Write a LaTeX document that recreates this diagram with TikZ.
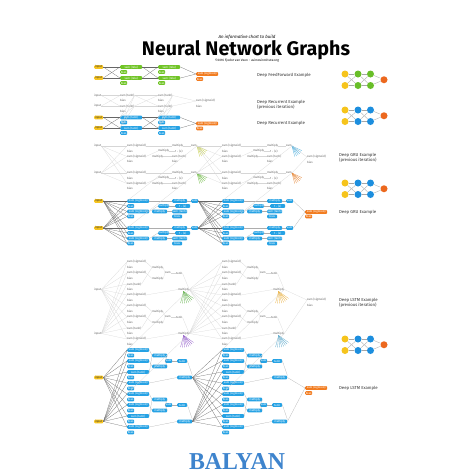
\documentclass[tikz,border=0pt]{standalone}
\usepackage{fontspec}
\setmainfont{Fira Sans}
\newfontfamily\markfont{Liberation Serif}
\usepackage{graphicx}
\definecolor{inyel}{RGB}{247,197,32}
\definecolor{ffgrn}{RGB}{112,196,38}
\definecolor{rnblu}{RGB}{38,162,228}
\definecolor{outor}{RGB}{242,124,32}
\definecolor{ghost}{RGB}{95,95,95}
\definecolor{gfan11}{RGB}{196,206,70}
\definecolor{gfan12}{RGB}{112,188,70}
\definecolor{gfan21}{RGB}{80,176,222}
\definecolor{gfan22}{RGB}{232,138,60}
\definecolor{lfan11}{RGB}{104,182,82}
\definecolor{lfan12}{RGB}{150,96,204}
\definecolor{lfan21}{RGB}{236,180,70}
\definecolor{lfan22}{RGB}{96,172,206}
\definecolor{dotyel}{RGB}{246,196,28}
\definecolor{dotgrn}{RGB}{104,190,40}
\definecolor{dotblu}{RGB}{28,142,222}
\definecolor{dotorg}{RGB}{236,104,30}
\definecolor{markblu}{RGB}{62,132,205}

\tikzset{
  cellbox/.style={anchor=west,inner sep=0pt,minimum height=3.6pt,rounded corners=0.9pt,
    font=\fontsize{2.9}{3}\selectfont,text=white},
  wbox/.style={cellbox,minimum width=22pt},
  sbox/.style={cellbox,minimum width=7pt},
  nbox/.style={cellbox,minimum width=10pt},
  mbox/.style={cellbox,minimum width=15pt},
  inbox/.style={cellbox,fill=inyel,minimum width=9pt,text=black!80},
  faded/.style={anchor=west,inner sep=0pt,minimum height=3.6pt,font=\fontsize{2.9}{3}\selectfont,text=ghost},
  wire/.style={black!60,line width=0.22pt},
  soft/.style={black!32,line width=0.2pt},
  faint/.style={black!16,line width=0.2pt},
  fan/.style={line width=0.3pt},
  blob/.style={circle,inner sep=0pt,minimum size=7pt},
  blurb/.style={anchor=west,inner sep=0pt,font=\fontsize{4.3}{5.2}\selectfont,text=black!80,align=left},
}

\begin{document}
\begin{tikzpicture}[x=1pt,y=-1pt]
\useasboundingbox[fill=white] (0,0) rectangle (474,474);

% heading
\node (sub) at (247,37) {\fontsize{4.4}{5}\selectfont\itshape An informative chart to build};
\node (title) at (246,50) {\resizebox{208pt}{!}{\bfseries Neural Network Graphs}};
\node (credit) at (247,61) {\fontsize{3.2}{4}\selectfont ©2016 Fjodor van Veen - asimovinstitute.org};

% deep feedforward
\foreach \i/\y in {1/67,2/78}{
  \node[inbox] (ffin\i) at (94,\y) {input};
  \node[wbox,fill=ffgrn] (ffa\i) at (120,\y) {sum (relu)};
  \node[sbox,fill=ffgrn] (ffb\i) at (120,\y+5) {bias};
  \node[wbox,fill=ffgrn] (ffc\i) at (158,\y) {sum (relu)};
  \node[sbox,fill=ffgrn] (ffd\i) at (158,\y+5) {bias};
}
\node[wbox,fill=outor] (ffout) at (196,74) {sum (sigmoid)};
\node[sbox,fill=outor] (ffbias) at (196,79) {bias};
\foreach \i in {1,2}{
  \foreach \j in {1,2}{
    \draw[wire] (ffin\i.east) -- (ffa\j.west);
    \draw[wire] (ffa\i.east) -- (ffc\j.west);
  }
  \draw[wire] (ffc\i.east) -- (ffout.west);
}

% deep recurrent, previous iteration
\foreach \i/\y in {1/95.5,2/106}{
  \node[faded] (rpin\i) at (94,\y) {input};
  \node[faded] (rpa\i) at (120,\y) {sum (tanh)};
  \node[faded] (rpb\i) at (120,\y+5) {bias};
  \node[faded] (rpc\i) at (158,\y) {sum (tanh)};
  \node[faded] (rpd\i) at (158,\y+5) {bias};
}
\node[faded] (rpout) at (196,101) {sum (sigmoid)};
\node[faded] (rpbias) at (196,106) {bias};
\foreach \i in {1,2}{
  \foreach \j in {1,2}{
    \draw[faint] (rpin\i.east) -- (rpa\j.west);
    \draw[faint] (rpa\i.east) -- (rpc\j.west);
  }
  \draw[faint] (rpc\i.east) -- (rpout.west);
}

% deep recurrent
\foreach \i/\y in {1/117.5,2/128}{
  \node[inbox] (rcin\i) at (94,\y) {input};
  \node[wbox,fill=rnblu] (rca\i) at (120,\y) {sum (tanh)};
  \node[sbox,fill=rnblu] (rcb\i) at (120,\y+5) {bias};
  \node[wbox,fill=rnblu] (rcc\i) at (158,\y) {sum (tanh)};
  \node[sbox,fill=rnblu] (rcd\i) at (158,\y+5) {bias};
}
\node[wbox,fill=outor] (rcout) at (196,123.5) {sum (sigmoid)};
\node[sbox,fill=outor] (rcbias) at (196,128.5) {bias};
\foreach \i in {1,2}{
  \foreach \j in {1,2}{
    \draw[wire] (rcin\i.east) -- (rca\j.west);
    \draw[wire] (rca\i.east) -- (rcc\j.west);
    \draw[faint] (rpa\i.east) -- (rca\j.west);
    \draw[faint] (rpc\i.east) -- (rcc\j.west);
  }
  \draw[wire] (rcc\i.east) -- (rcout.west);
}

% deep GRU, previous iteration
\foreach \i/\y in {1/146,2/173} \node[faded] (gpin\i) at (94,\y) {input};
\foreach \u/\n in {0/1,95/2}{
  \foreach \k/\b in {1/146,2/173}{
    \node[faded] (gpa\n\k) at (127+\u,\b) {sum (sigmoid)};
    \node[faded] (gpb\n\k) at (127+\u,\b+5) {bias};
    \node[faded] (gpc\n\k) at (127+\u,\b+10.5) {sum (sigmoid)};
    \node[faded] (gpd\n\k) at (127+\u,\b+15.5) {bias};
    \node[faded] (gpm\n\k) at (158+\u,\b+5) {multiply};
    \node[faded] (gpn\n\k) at (152+\u,\b+10.5) {multiply};
    \node[faded] (gpe\n\k) at (172+\u,\b) {multiply};
    \node[faded] (gpf\n\k) at (175+\u,\b+5) {1 - (x)};
    \node[faded] (gpg\n\k) at (172+\u,\b+10.5) {sum (tanh)};
    \node[faded] (gph\n\k) at (172+\u,\b+15.5) {bias};
    \node[faded] (gps\n\k) at (191+\u,\b) {sum};
    \draw[faint] (gpa\n\k.east) -- (gpe\n\k.west);
    \draw[faint] (gpc\n\k.east) -- (gpm\n\k.west);
    \draw[faint] (gpm\n\k.east) -- (gpf\n\k.west);
    \draw[faint] (gpn\n\k.east) -- (gpg\n\k.west);
    \draw[faint] (gpe\n\k.east) -- (gps\n\k.west);
    \foreach \a in {25,35,...,75}
      \draw[fan,color=gfan\n\k] (gps\n\k.east) -- ++({11*cos(\a)},{11*sin(\a)});
  }
}
\node[faded] (gpout) at (307,157) {sum (sigmoid)};
\node[faded] (gpbias) at (307,162) {bias};
\foreach \i in {1,2}{
  \foreach \k in {1,2}{
    \draw[faint] (gpin\i.east) -- (gpa1\k.west);
    \draw[faint] (gpin\i.east) -- (gpc1\k.west);
    \draw[faint] (gps1\i.east) -- (gpa2\k.west);
    \draw[faint] (gps1\i.east) -- (gpc2\k.west);
  }
  \draw[faint] (gps2\i.east) -- (gpout.west);
}

% deep GRU
\foreach \i/\y in {1/201,2/228} \node[inbox] (gain\i) at (94,\y) {input};
\foreach \u/\n in {0/1,95/2}{
  \foreach \k/\b in {1/201,2/228}{
    \node[wbox,fill=rnblu] (gaa\n\k) at (127+\u,\b) {sum (sigmoid)};
    \node[sbox,fill=rnblu] (gab\n\k) at (127+\u,\b+5) {bias};
    \node[wbox,fill=rnblu] (gac\n\k) at (127+\u,\b+10.5) {sum (sigmoid)};
    \node[sbox,fill=rnblu] (gad\n\k) at (127+\u,\b+15.5) {bias};
    \node[nbox,fill=rnblu] (gam\n\k) at (158+\u,\b+5) {multiply};
    \node[mbox,fill=rnblu] (gan\n\k) at (152+\u,\b+10.5) {multiply};
    \node[mbox,fill=rnblu] (gae\n\k) at (172+\u,\b) {multiply};
    \node[mbox,fill=rnblu] (gaf\n\k) at (175+\u,\b+5) {1 - (x)};
    \node[mbox,fill=rnblu] (gag\n\k) at (172+\u,\b+10.5) {sum (tanh)};
    \node[nbox,fill=rnblu] (gah\n\k) at (172+\u,\b+15.5) {bias};
    \node[sbox,fill=rnblu] (gas\n\k) at (191+\u,\b) {sum};
    \draw[soft] (gaa\n\k.east) -- (gae\n\k.west);
    \draw[soft] (gac\n\k.east) -- (gam\n\k.west);
    \draw[soft] (gam\n\k.east) -- (gaf\n\k.west);
    \draw[soft] (gan\n\k.east) -- (gag\n\k.west);
    \draw[soft] (gae\n\k.east) -- (gas\n\k.west);
    \draw[faint] (gps\n\k.east) -- (gaa\n\k.west);
  }
}
\node[wbox,fill=outor] (gaout) at (305,212) {sum (sigmoid)};
\node[sbox,fill=outor] (gabias) at (305,216.5) {bias};
\foreach \i in {1,2}{
  \foreach \k in {1,2}{
    \foreach \g in {a,b,c,d}{
      \draw[wire] (gain\i.east) -- (ga\g1\k.west);
      \draw[wire] (gas1\i.east) -- (ga\g2\k.west);
    }
  }
  \draw[soft] (gas2\i.east) -- (gaout.west);
}

% deep LSTM, previous iteration
\foreach \i/\y in {1/289.5,2/333.5} \node[faded] (lpin\i) at (94,\y) {input};
\foreach \u/\n in {0/1,95/2}{
  \foreach \k/\b in {1/262,2/306}{
    \foreach \r/\t in {0/sum (sigmoid),2/sum (sigmoid),4/sum (tanh),6/sum (sigmoid)}
      \node[faded] (lpc\n\k\r) at (127+\u,\b+5.5*\r) {\t};
    \foreach \r in {1,3,5,7}
      \node[faded] (lpb\n\k\r) at (127+\u,\b+5.5*\r) {bias};
    \node[faded] (lpm\n\k) at (152+\u,\b+5.5) {multiply};
    \node[faded] (lpn\n\k) at (152+\u,\b+16.5) {multiply};
    \node[faded] (lps\n\k) at (165+\u,\b+11) {sum};
    \node[faded] (lpt\n\k) at (176+\u,\b+11) {tanh};
    \node[faded] (lpo\n\k) at (178+\u,\b+27.5) {multiply};
    \draw[faint] (lpc\n\k0.east) -- (lpm\n\k.west);
    \draw[faint] (lpc\n\k4.east) -- (lpm\n\k.west);
    \draw[faint] (lpc\n\k2.east) -- (lpn\n\k.west);
    \draw[faint] (lpm\n\k.east) -- (lps\n\k.west);
    \draw[faint] (lpn\n\k.east) -- (lps\n\k.west);
    \draw[faint] (lps\n\k.east) -- (lpt\n\k.west);
    \draw[faint] (lpt\n\k.east) -- (lpo\n\k.east);
    \draw[faint] (lpc\n\k6.east) -- (lpo\n\k.west);
    \foreach \a in {35,45,...,105}
      \draw[fan,color=lfan\n\k] (lpo\n\k.south) -- ++({12*cos(\a)},{12*sin(\a)});
  }
}
\node[faded] (lpout) at (307,300) {sum (sigmoid)};
\node[faded] (lpbias) at (307,305) {bias};
\foreach \i in {1,2}{
  \foreach \k in {1,2}{
    \foreach \r in {0,2,4,6}{
      \draw[faint] (lpin\i.east) -- (lpc1\k\r.west);
      \draw[faint] (lpo1\i.east) -- (lpc2\k\r.west);
    }
  }
  \draw[faint] (lpo2\i.east) -- (lpout.west);
}

% deep LSTM
\foreach \i/\y in {1/377.5,2/421.5} \node[inbox] (lain\i) at (94,\y) {input};
\foreach \u/\n in {0/1,95/2}{
  \foreach \k/\b in {1/350,2/394}{
    \foreach \r/\t in {0/sum (sigmoid),2/sum (sigmoid),4/sum (tanh),6/sum (sigmoid)}
      \node[wbox,fill=rnblu] (lac\n\k\r) at (127+\u,\b+5.5*\r) {\t};
    \foreach \r in {1,3,5,7}
      \node[sbox,fill=rnblu] (lab\n\k\r) at (127+\u,\b+5.5*\r) {bias};
    \node[mbox,fill=rnblu] (lam\n\k) at (152+\u,\b+5.5) {multiply};
    \node[mbox,fill=rnblu] (lan\n\k) at (152+\u,\b+16.5) {multiply};
    \node[sbox,fill=rnblu] (las\n\k) at (165+\u,\b+11) {sum};
    \node[nbox,fill=rnblu] (lat\n\k) at (177+\u,\b+11) {tanh};
    \node[mbox,fill=rnblu] (lao\n\k) at (177+\u,\b+27.5) {multiply};
    \draw[soft] (lac\n\k0.east) -- (lam\n\k.west);
    \draw[soft] (lac\n\k4.east) -- (lam\n\k.west);
    \draw[soft] (lac\n\k2.east) -- (lan\n\k.west);
    \draw[soft] (lam\n\k.east) -- (las\n\k.west);
    \draw[soft] (lan\n\k.east) -- (las\n\k.west);
    \draw[soft] (las\n\k.east) -- (lat\n\k.west);
    \draw[soft] (lat\n\k.east) -- (lao\n\k.north east);
    \draw[soft] (lac\n\k6.east) -- (lao\n\k.west);
    \draw[faint] (lpo\n\k.east) -- (lac\n\k0.west);
  }
}
\node[wbox,fill=outor] (laout) at (305,388) {sum (sigmoid)};
\node[sbox,fill=outor] (labias) at (305,393) {bias};
\foreach \i in {1,2}{
  \foreach \k in {1,2}{
    \foreach \r in {0,2,4,6}{
      \draw[wire] (lain\i.east) -- (lac1\k\r.west);
      \draw[wire] (lao1\i.east) -- (lac2\k\r.west);
    }
  }
  \draw[soft] (lao2\i.east) -- (laout.west);
}

% captions
\node[blurb] (capff) at (257,75) {Deep FeedForward Example};
\node[blurb] (caprp) at (257,104.5) {Deep Recurrent Example\\(previous iteration)};
\node[blurb] (caprc) at (257,123.5) {Deep Recurrent Example};
\node[blurb] (capgp) at (339,158) {Deep GRU Example\\(previous iteration)};
\node[blurb] (capga) at (339,212) {Deep GRU Example};
\node[blurb] (caplp) at (339,302.5) {Deep LSTM Example\\(previous iteration)};
\node[blurb] (capla) at (339,388) {Deep LSTM Example};

% small network icons
\foreach \nm/\col/\y in {ff/dotgrn/74,rc/dotblu/110,gr/dotblu/183,ls/dotblu/339}{
  \node[blob,fill=dotyel] (\nm-i1) at (345,\y) {};
  \node[blob,fill=dotyel] (\nm-i2) at (345,\y+11.5) {};
  \node[blob,fill=\col] (\nm-h1) at (358,\y) {};
  \node[blob,fill=\col] (\nm-h2) at (358,\y+11.5) {};
  \node[blob,fill=\col] (\nm-k1) at (370.5,\y) {};
  \node[blob,fill=\col] (\nm-k2) at (370.5,\y+11.5) {};
  \node[blob,fill=dotorg] (\nm-o) at (384,\y+5.75) {};
  \foreach \a in {1,2}{
    \foreach \b in {1,2}{
      \draw[black!35,line width=0.3pt] (\nm-i\a) -- (\nm-h\b);
      \draw[black!35,line width=0.3pt] (\nm-h\a) -- (\nm-k\b);
    }
    \draw[black!35,line width=0.3pt] (\nm-k\a) -- (\nm-o);
  }
}

% watermark
\node[text=markblu,inner sep=0pt] (mark) at (237,462) {\resizebox{96pt}{16pt}{\markfont\bfseries BALYAN}};
\end{tikzpicture}
\end{document}
